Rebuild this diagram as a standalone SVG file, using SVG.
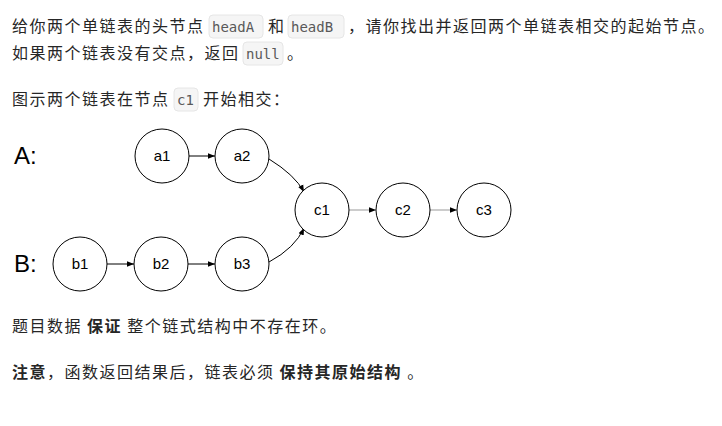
<svg xmlns="http://www.w3.org/2000/svg" width="722" height="426" viewBox="0 0 722 426">
<style>
.t{font-family:"Noto Sans CJK SC","Liberation Sans",sans-serif;font-size:16px;letter-spacing:1.5px;fill:#262626}
.c{font-family:"DejaVu Sans Mono","Liberation Mono",monospace;font-size:14px;fill:#595959}
.cb{fill:#f5f5f5;stroke:#e6e6e6;stroke-width:1}
.n circle{fill:#fff;stroke:#000;stroke-width:1}
.n text{font-family:"Liberation Sans",Arial,sans-serif;font-size:15px;text-anchor:middle;fill:#000}
.e{stroke:#000;stroke-width:1;fill:none;marker-end:url(#ar)}
.g{stroke:#999}
.lab{font-family:"Liberation Sans",Arial,sans-serif;font-size:24px;fill:#000}
</style>
<defs><marker id="ar" viewBox="0 0 10 10" refX="10" refY="5" markerWidth="7" markerHeight="7" orient="auto" markerUnits="userSpaceOnUse"><path d="M0,1L10,5L0,9z" fill="#000"/></marker></defs>
<rect class="cb" x="209" y="15" width="54" height="23" rx="4"/>
<rect class="cb" x="288" y="15" width="56" height="23" rx="4"/>
<rect class="cb" x="243" y="42" width="40" height="23" rx="4"/>
<rect class="cb" x="174" y="88" width="24" height="23" rx="4"/>
<text class="t" x="12" y="32">给你两个单链表的头节点</text>
<text class="c" x="212" y="32">headA</text>
<text class="t" x="268" y="32">和</text>
<text class="c" x="291" y="32">headB</text>
<text class="t" x="348" y="32">，请你找出并返回两个单链表相交的起始节点。</text>
<text class="t" x="12" y="59">如果两个链表没有交点，返回</text>
<text class="c" x="246" y="59">null</text>
<text class="t" x="287" y="59">。</text>
<text class="t" x="12" y="105">图示两个链表在节点</text>
<text class="c" x="177" y="105">c1</text>
<text class="t" x="203" y="105">开始相交：</text>
<text class="lab" x="14" y="164">A:</text>
<text class="lab" x="14" y="272">B:</text>
<g id="connectors">
<path class="e" d="M189,156H215"/>
<path class="e" d="M269,159Q295,175 304,192"/>
<path class="e" d="M107,264H134"/>
<path class="e" d="M188,264H215"/>
<path class="e" d="M269,262Q295,248 304,228"/>
<path class="e g" d="M349,210H376"/>
<path class="e g" d="M430,210H457"/>
</g>
<g id="a1" class="n"><circle cx="162" cy="156" r="27"/><text x="162" y="161">a1</text></g>
<g id="a2" class="n"><circle cx="242" cy="156" r="27"/><text x="242" y="161">a2</text></g>
<g id="c1" class="n"><circle cx="322" cy="210" r="27"/><text x="322" y="215">c1</text></g>
<g id="c2" class="n"><circle cx="403" cy="210" r="27"/><text x="403" y="215">c2</text></g>
<g id="c3" class="n"><circle cx="484" cy="210" r="27"/><text x="484" y="215">c3</text></g>
<g id="b1" class="n"><circle cx="80" cy="264" r="27"/><text x="80" y="269">b1</text></g>
<g id="b2" class="n"><circle cx="161" cy="264" r="27"/><text x="161" y="269">b2</text></g>
<g id="b3" class="n"><circle cx="242" cy="264" r="27"/><text x="242" y="269">b3</text></g>
<text class="t" x="12" y="332">题目数据 <tspan font-weight="bold">保证</tspan> 整个链式结构中不存在环。</text>
<text class="t" x="12" y="378"><tspan font-weight="bold">注意</tspan>，函数返回结果后，链表必须 <tspan font-weight="bold">保持其原始结构</tspan> 。</text>
</svg>
